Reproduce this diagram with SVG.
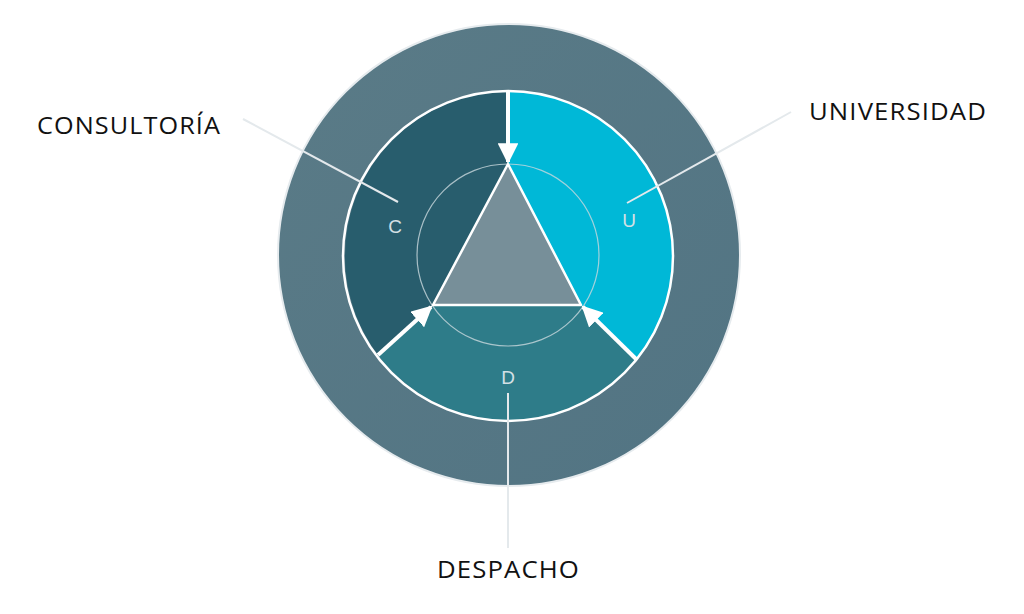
<svg xmlns="http://www.w3.org/2000/svg" width="1024" height="614" viewBox="0 0 1024 614">
<style>
.lbl{font-family:"Open Sans","Liberation Sans",sans-serif;font-size:23px;fill:#111;letter-spacing:1px}
.ini{font-family:"Liberation Sans",Arial,sans-serif;font-size:19px;fill:#d3e0e5;text-anchor:middle}
.lead{stroke:#e4e9ec;stroke-width:2;fill:none}
.arr{stroke:#fff;stroke-width:4;fill:none;marker-end:url(#ah)}
</style>
<defs>
<linearGradient id="og" x1="0" y1="0" x2="1" y2="1">
<stop offset="0" stop-color="#5a7b87"/>
<stop offset="1" stop-color="#527483"/>
</linearGradient>
<marker id="ah" viewBox="0 0 10 10" refX="9" refY="5" markerWidth="5.2" markerHeight="5.2" orient="auto" markerUnits="strokeWidth">
<path d="M0,0 L10,5 L0,10 z" fill="#fff"/>
</marker>
</defs>
<g id="outer-ring">
<circle cx="509" cy="255" r="231" fill="url(#og)" stroke="#e6ebee" stroke-width="2"/>
</g>
<g id="consultoria-sector">
<path d="M508,91 A165,165 0 0 0 378,355 L433,305 L508,164 Z" fill="#285d6d"/>
<text class="ini" x="395" y="233">C</text>
</g>
<g id="universidad-sector">
<path d="M508,91 A165,165 0 0 1 637,360 L581,305 L508,164 Z" fill="#00b8d7"/>
<text class="ini" x="629" y="227">U</text>
</g>
<g id="despacho-sector">
<path d="M378,355 A165,165 0 0 0 637,360 L581,305 L433,305 Z" fill="#2e7c89"/>
<text class="ini" x="508" y="384">D</text>
</g>
<g id="middle-outline">
<circle cx="508" cy="256" r="165" fill="none" stroke="#fff" stroke-width="2.5"/>
<circle cx="508" cy="255" r="91" fill="none" stroke="#c9d8dd" stroke-width="1.2" opacity="0.8"/>
</g>
<g id="triangle">
<path d="M508,164 L581,305 L433,305 Z" fill="#778f99" stroke="#fff" stroke-width="2.5" stroke-linejoin="round"/>
</g>
<g id="connectors">
<line class="arr" x1="508" y1="91" x2="508" y2="162"/>
<line class="arr" x1="378" y1="355" x2="431" y2="307"/>
<line class="arr" x1="637" y1="360" x2="583" y2="307"/>
<line class="lead" x1="243" y1="119" x2="398" y2="202"/>
<line class="lead" x1="791" y1="112" x2="627" y2="203"/>
<line class="lead" x1="508" y1="393" x2="508" y2="548"/>
</g>
<g id="label-consultoria"><text class="lbl" x="37" y="134" textLength="184" lengthAdjust="spacingAndGlyphs">CONSULTORÍA</text></g>
<g id="label-universidad"><text class="lbl" x="809" y="120" textLength="178" lengthAdjust="spacingAndGlyphs">UNIVERSIDAD</text></g>
<g id="label-despacho"><text class="lbl" x="437" y="578" textLength="143" lengthAdjust="spacingAndGlyphs">DESPACHO</text></g>
</svg>
